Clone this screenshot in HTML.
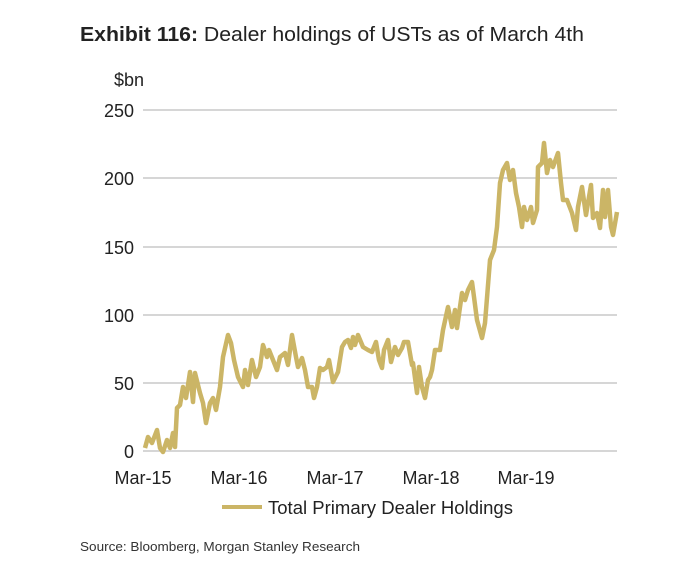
<!DOCTYPE html><html><head><style>body{margin:0;background:#fff;width:692px;height:561px;overflow:hidden;font-family:"Liberation Sans",sans-serif}</style></head><body>
<svg width="692" height="561" xmlns="http://www.w3.org/2000/svg" font-family="Liberation Sans, sans-serif">
<text x="80" y="41" font-size="20" fill="#222" textLength="504" lengthAdjust="spacingAndGlyphs"><tspan font-weight="bold">Exhibit 116:</tspan>  Dealer holdings of USTs as of March 4th</text>
<text x="114" y="86" font-size="18" fill="#222">$bn</text>
<g stroke="#c8c8c8" stroke-width="1.5">
<line x1="143" x2="617" y1="110" y2="110"/><line x1="143" x2="617" y1="178" y2="178"/><line x1="143" x2="617" y1="247" y2="247"/><line x1="143" x2="617" y1="315" y2="315"/><line x1="143" x2="617" y1="383" y2="383"/><line x1="143" x2="617" y1="451" y2="451"/></g>
<g font-size="18" fill="#222" text-anchor="end"><text x="134" y="117">250</text><text x="134" y="185">200</text><text x="134" y="254">150</text><text x="134" y="322">100</text><text x="134" y="390">50</text><text x="134" y="458">0</text></g>
<g font-size="18" fill="#222" text-anchor="middle"><text x="143" y="484">Mar-15</text><text x="239" y="484">Mar-16</text><text x="335" y="484">Mar-17</text><text x="431" y="484">Mar-18</text><text x="526" y="484">Mar-19</text></g>
<polyline fill="none" stroke="#cbb566" stroke-width="4.5" stroke-linejoin="round" points="145,448 148,437 152,443 157,430 160,448 163,452 167,440 170,448 173,433 175,447 177,408 180,405 183,387 186,398 190,372 193,402 195,373 200,393 203,403 206,423 210,403 213,398 216,410 220,387 223,357 228,335 231,343 234,360 238,377 243,387 245,370 248,385 252,360 256,377 260,367 263,345 267,357 269,350 273,360 277,370 280,357 285,353 288,365 292,335 296,357 298,367 302,358 305,370 308,387 312,387 314,398 317,387 320,368 323,370 327,367 329,360 333,382 338,372 342,347 345,342 348,340 351,348 353,337 355,345 358,335 363,347 368,350 372,352 376,342 379,360 382,368 384,350 388,340 391,362 395,347 398,355 402,348 404,342 408,342 412,365 413,363 417,393 419,367 422,387 425,398 428,380 430,377 432,370 435,350 440,350 443,330 448,307 452,327 455,310 457,328 462,293 465,300 468,290 472,282 474,297 477,320 482,338 485,323 490,260 494,250 497,227 500,183 503,170 507,163 510,180 513,170 516,193 519,207 522,227 524,207 527,220 531,207 533,223 537,210 538,167 542,163 544,143 547,173 550,160 553,167 558,153 561,183 563,200 567,200 572,213 576,230 578,207 582,187 586,215 591,185 593,218 597,213 600,228 603,190 605,217 608,190 611,227 613,235 617,212"/>
<line x1="222" x2="262" y1="507" y2="507" stroke="#cbb566" stroke-width="4"/>
<text x="268" y="514" font-size="18" fill="#222" textLength="245" lengthAdjust="spacingAndGlyphs">Total Primary Dealer Holdings</text>
<text x="80" y="551" font-size="13" fill="#333" textLength="280" lengthAdjust="spacingAndGlyphs">Source: Bloomberg, Morgan Stanley Research</text>
</svg></body></html>
